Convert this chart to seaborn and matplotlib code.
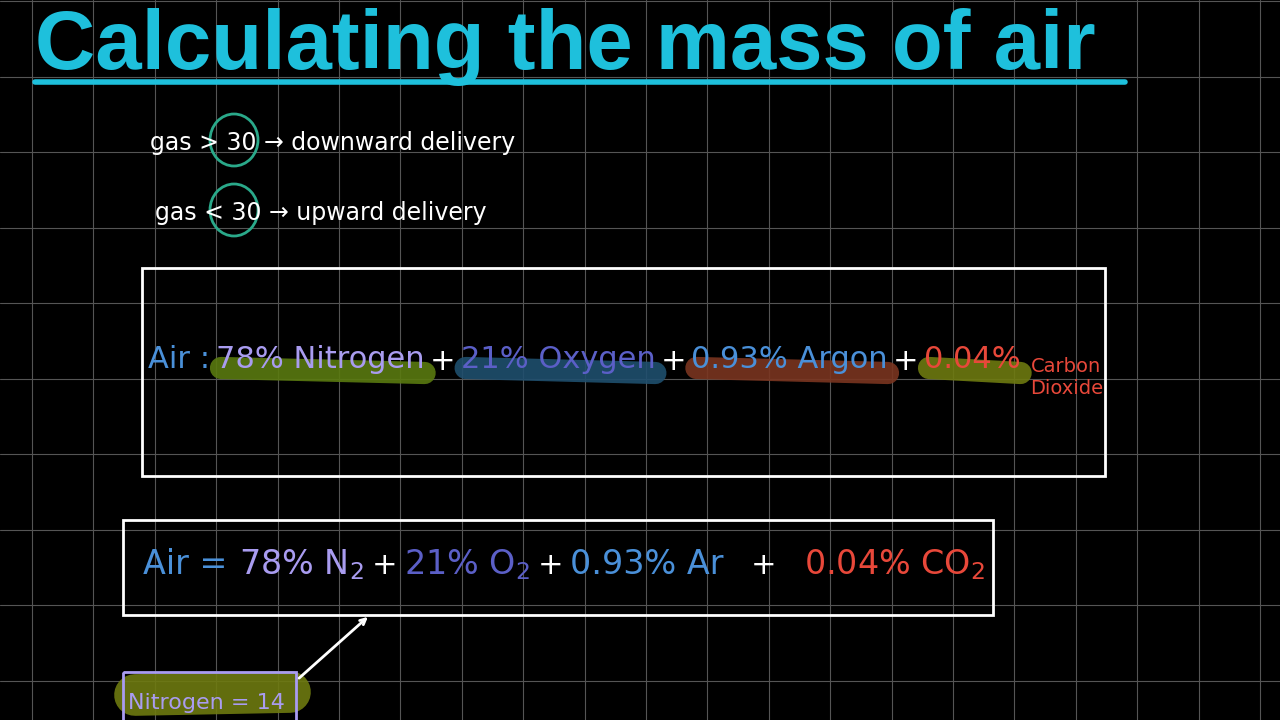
import matplotlib
matplotlib.use("Agg")
import matplotlib.pyplot as plt
import seaborn as sns
import numpy as np

sns.set_style("dark")
plt.rcParams['font.family'] = ['DejaVu Sans']

title = "Calculating the mass of air"
gases = ["Nitrogen", "Oxygen", "Argon", "Carbon\nDioxide"]
percents = ["78%", "21%", "0.93%", "0.04%"]
formulas = ["N$_2$", "O$_2$", "Ar", "CO$_2$"]
gas_colors = ["#a99cf0", "#5b5fc7", "#4a90d9", "#e8483a"]
highlight_colors = ["#5a7a10", "#1f4f6e", "#7a3520", "#6e7a10"]

fig = plt.figure(figsize=(12.8, 7.2), dpi=100, facecolor="black")
ax = fig.add_axes([0, 0, 1, 1])
ax.set_facecolor("black")
ax.set_xlim(0, 1280)
ax.set_ylim(720, 0)
ax.axis("off")
renderer = fig.canvas.get_renderer()

def width(t):
    return t.get_window_extent(renderer).width

vx = np.arange(32, 1280, 61.4)
hy = np.arange(1, 720, 75.5)
for x in vx:
    ax.axvline(x, color="#555555", lw=0.8, zorder=0)
for y in hy:
    ax.axhline(y, color="#555555", lw=0.8, zorder=0)

ax.text(35, 47, title, color="#1ec0dc", fontsize=60, fontweight="bold", va="center", ha="left",
        family="Liberation Sans")
ax.plot([35, 1125], [82, 82], color="#1ec0dc", lw=4)

ax.text(150, 143, "gas > 30 → downward delivery", color="white", fontsize=17, va="center")
ax.text(155, 213, "gas < 30 → upward delivery", color="white", fontsize=17, va="center")
for cy in (140, 210):
    ax.add_patch(matplotlib.patches.Ellipse((234, cy), 48, 52, fill=False, ec="#2aa98a", lw=2))

# box 1
ax.add_patch(matplotlib.patches.Rectangle((142, 268), 963, 208, fill=False, ec="white", lw=2))
fs = 22
x = 148
t = ax.text(x, 360, "Air :", color="#4a90d9", fontsize=fs, va="center", zorder=2)
x += width(t) + 6
for i, (g, p, c) in enumerate(zip(gases, percents, gas_colors)):
    label = f"{p} {g}" if i < 3 else p
    t = ax.text(x, 360, label, color=c, fontsize=fs, va="center", zorder=2)
    w = width(t)
    ax.plot([x + 5, x + w], [368, 373], color=highlight_colors[i], lw=16,
            solid_capstyle="round", alpha=0.9, zorder=1)
    x += w
    if i < 3:
        ax.text(x + 18, 362, "+", color="white", fontsize=fs, va="center", ha="center", zorder=2)
        x += 36
    else:
        ax.text(x + 10, 378, g, color=c, fontsize=14, va="center", ha="left", zorder=2)

# box 2
ax.add_patch(matplotlib.patches.Rectangle((123, 520), 870, 95, fill=False, ec="white", lw=2))
x = 143
t = ax.text(x, 565, "Air =", color="#4a90d9", fontsize=24, va="center")
x += width(t) + 12
gaps = [40, 40, 80]
for i, (f, p, c) in enumerate(zip(formulas, percents, gas_colors)):
    t = ax.text(x, 565, f"{p} {f}", color=c, fontsize=24, va="center")
    x += width(t)
    if i < 3:
        ax.text(x + gaps[i] / 2, 565, "+", color="white", fontsize=22, va="center", ha="center")
        x += gaps[i]

ax.annotate("", xy=(370, 615), xytext=(297, 680),
            arrowprops=dict(arrowstyle="->", color="white", lw=2))
ax.plot([135, 290], [695, 692], color="#6e7a10", lw=30, alpha=0.9, zorder=1)
ax.add_patch(matplotlib.patches.Rectangle((123, 672), 173, 60, fill=False, ec="#a99cf0", lw=2, zorder=2))
ax.text(128, 703, "Nitrogen = 14", color="#a99cf0", fontsize=16, va="center", zorder=3)

fig.savefig("out.png", dpi=100, facecolor="black")
